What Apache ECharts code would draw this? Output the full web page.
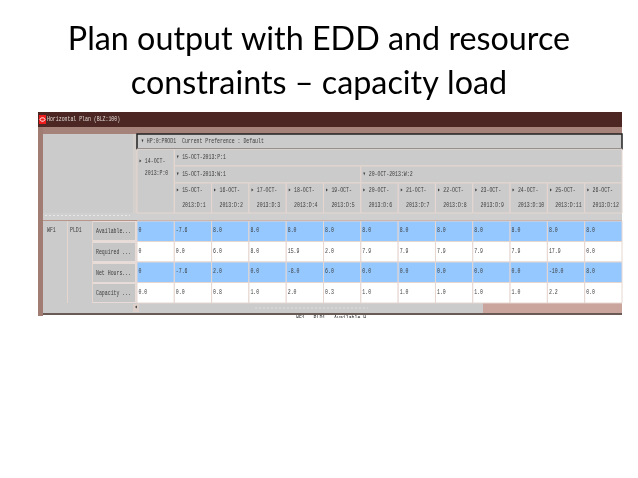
<!DOCTYPE html>
<html>
<head>
<meta charset="utf-8">
<script src="https://cdn.jsdelivr.net/npm/echarts@6/dist/echarts.min.js"></script>
<style>
    html, body { margin: 0; padding: 0; background: #fff; }
    #main { width: 638px; height: 478px; }
    /* the table is a soft screenshot in the slide, the heading stays sharp on its own layer */
    #main canvas:first-child { filter: blur(0.4px); }
</style>
</head>
<body>
<div id="main"></div>
<script>
var titleLines = ['Plan output with EDD and resource', 'constraints \u2013 capacity load'];
var windowTitle = 'Horizontal Plan (BLZ:100)';
var rowNames = ['Available...', 'Required ...', 'Net Hours...', 'Capacity ...'];
var orgName = 'WF1';
var planName = 'PLD1';

var available = ['0', '-7.6', '8.0', '8.0', '8.0', '8.0', '8.0', '8.0', '8.0', '8.0', '8.0', '8.0', '8.0'];
var required = ['0', '0.0', '6.0', '8.0', '15.9', '2.0', '7.9', '7.9', '7.9', '7.9', '7.9', '17.9', '0.0'];
var netHours = ['0', '-7.6', '2.0', '0.0', '-8.0', '6.0', '0.0', '0.0', '0.0', '0.0', '0.0', '-10.0', '8.0'];
var capacity = ['0.0', '0.0', '0.8', '1.0', '2.0', '0.3', '1.0', '1.0', '1.0', '1.0', '1.0', '2.2', '0.0'];
var rows = [available, required, netHours, capacity];

var days = ['15-OCT-', '16-OCT-', '17-OCT-', '18-OCT-', '19-OCT-', '20-OCT-', '21-OCT-', '22-OCT-', '23-OCT-', '24-OCT-', '25-OCT-', '26-OCT-'];
var dayIds = ['2013:D:1', '2013:D:2', '2013:D:3', '2013:D:4', '2013:D:5', '2013:D:6', '2013:D:7', '2013:D:8', '2013:D:9', '2013:D:10', '2013:D:11', '2013:D:12'];
var columns = ['c0', 'c1', 'c2', 'c3', 'c4', 'c5', 'c6', 'c7', 'c8', 'c9', 'c10', 'c11', 'c12'];

var FONT = '"Liberation Mono", monospace';
var SMALL = '7.5px ' + FONT;
var SQUEEZE = 0.65;
var TEXT = '#3c3c3c';
var GRAY = '#cbcbcb';
var EDGE = '#e6d6d0';

// header row edges, the header grid runs 0..79 downwards
var headerEdges = [0, 15, 32, 49, 79];
var headerCells = [
    [0, 13, 0, 1, '\u25be HP:0:PROD1  Current Preference : Default'],
    [0, 1, 1, 4, '\u25b8 14-OCT-\n  2013:P:0'],
    [1, 13, 1, 2, '\u25be 15-OCT-2013:P:1'],
    [1, 6, 2, 3, '\u25be 15-OCT-2013:W:1'],
    [6, 13, 2, 3, '\u25be 20-OCT-2013:W:2']
];
days.forEach(function (d, i) {
    headerCells.push([i + 1, i + 2, 3, 4, '\u25b8 ' + d + '\n  ' + dayIds[i]]);
});

var bodyData = [];
rows.forEach(function (row, r) {
    row.forEach(function (v, c) {
        bodyData.push([c, r, v]);
    });
});

function rect(x, y, w, h, fill) {
    return {type: 'rect', silent: true, shape: {x: x, y: y, width: w, height: h}, style: {fill: fill}};
}
function label(x, y, s, color) {
    return {type: 'text', z: 3, silent: true, x: x, y: y, scaleX: SQUEEZE, style: {
        text: s, fill: color || TEXT, font: SMALL, textVerticalAlign: 'middle'
    }};
}
function dots(x1, x2, y, color) {
    return {type: 'line', z: 2, silent: true, shape: {x1: x1, y1: y, x2: x2, y2: y}, style: {stroke: color, lineWidth: 1, lineDash: [2, 2]}};
}

var chrome = [
    rect(38, 112, 584, 15, '#4b2622'),
    rect(38, 127, 584, 7, '#a5837b'),
    rect(38, 127, 5, 189, '#a07c72'),
    rect(43, 134, 90, 79, GRAY),
    rect(133, 134, 4, 79, '#d6d0cc'),
    rect(43, 213, 579, 8, '#cfcfcf'),
    dots(45, 130, 215.5, '#e8e8e8'),
    rect(43, 220, 579, 1, '#b8958a'),
    rect(43, 221, 50, 82, GRAY),
    rect(67, 221, 1, 82, EDGE),
    rect(92, 221, 1, 82, EDGE),
    rect(93, 221, 44, 82, '#e8dcd8'),
    rect(93, 222, 42, 18, '#c6c6c6'),
    rect(93, 243, 42, 18, '#c6c6c6'),
    rect(93, 264, 42, 18, '#c6c6c6'),
    rect(93, 284, 42, 18, '#c6c6c6'),
    rect(43, 303, 579, 10, GRAY),
    rect(133, 304, 6, 8, '#ddd0cb'),
    dots(255, 368, 308, '#dedede'),
    rect(483, 303, 139, 10, '#c9a59d'),
    rect(43, 313, 579, 2, '#6a5a56'),
    rect(39, 115, 7, 9, '#ee1c1c'),
    {type: 'ellipse', z: 1, silent: true, shape: {cx: 42.5, cy: 119.5, rx: 2.5, ry: 1.7}, style: {fill: 'none', stroke: '#fff', lineWidth: 1}},
    label(47, 119.5, windowTitle, '#e2d8d4'),
    label(47, 230, orgName),
    label(70, 230, planName),
    label(134.5, 307.5, '\u25c2'),
    // top of the next line of the source screenshot, cut by the crop
    label(296, 318.5, orgName + '   ' + planName + '   Available H', '#222222'),
    {type: 'rect', z: 5, silent: true, shape: {x: 280, y: 318, width: 130, height: 8}, style: {fill: '#ffffff'}}
];
rowNames.forEach(function (name, i) {
    chrome.push(label(96, [231, 252, 273, 293][i], name));
});

var option = {
    animation: false,
    backgroundColor: '#ffffff',
    title: {
        text: titleLines.join('\n'),
        left: 319,
        top: 18,
        padding: 0,
        zlevel: 1,
        textAlign: 'center',
        textStyle: {fontFamily: 'Lato', fontWeight: 'normal', fontSize: 32.3, lineHeight: 44, color: '#000000'}
    },
    graphic: {elements: chrome, z: -1},
    grid: [
        {left: 137, top: 221, width: 485, height: 82},
        {left: 137, top: 134, width: 485, height: 79}
    ],
    xAxis: [
        {type: 'category', gridIndex: 0, data: columns, show: false},
        {type: 'value', gridIndex: 1, min: 0, max: 13, show: false}
    ],
    yAxis: [
        {type: 'category', gridIndex: 0, data: rowNames, inverse: true, show: false},
        {type: 'value', gridIndex: 1, min: 0, max: 79, inverse: true, show: false}
    ],
    series: [
        {
            type: 'custom',
            xAxisIndex: 0,
            yAxisIndex: 0,
            data: bodyData,
            encode: {x: 0, y: 1},
            renderItem: function (params, api) {
                var c = api.coord([api.value(0), api.value(1)]);
                var size = api.size([1, 1]);
                var row = bodyData[params.dataIndex][1];
                var x = c[0] - size[0] / 2;
                var y = c[1] - size[1] / 2;
                return {
                    type: 'group',
                    children: [
                        {
                            type: 'rect',
                            shape: {x: x, y: y, width: size[0], height: size[1]},
                            style: {fill: row % 2 === 0 ? '#94c8ff' : '#ffffff', stroke: EDGE, lineWidth: 1}
                        },
                        {
                            type: 'text',
                            x: x + 1.5,
                            y: c[1] - 1,
                            scaleX: SQUEEZE,
                            style: {
                                text: bodyData[params.dataIndex][2],
                                fill: TEXT,
                                font: SMALL,
                                textVerticalAlign: 'middle'
                            }
                        }
                    ]
                };
            }
        },
        {
            type: 'custom',
            xAxisIndex: 1,
            yAxisIndex: 1,
            data: headerCells,
            encode: {x: [0, 1], y: [2, 3]},
            renderItem: function (params, api) {
                var cell = headerCells[params.dataIndex];
                var a = api.coord([cell[0], headerEdges[cell[2]]]);
                var b = api.coord([cell[1], headerEdges[cell[3]]]);
                var isPref = cell[2] === 0;
                var isPeriod = cell[0] === 0 && !isPref;
                return {
                    type: 'group',
                    children: [
                        {
                            type: 'rect',
                            shape: {x: a[0], y: a[1], width: b[0] - a[0], height: b[1] - a[1]},
                            style: {fill: GRAY, stroke: isPref ? '#222222' : EDGE, lineWidth: isPref ? 1.5 : 1}
                        },
                        {
                            type: 'text',
                            x: a[0] + (isPref ? 4 : 2),
                            y: isPeriod ? a[1] + 6 : (a[1] + b[1]) / 2,
                            scaleX: SQUEEZE,
                            style: {
                                text: cell[4],
                                fill: TEXT,
                                font: SMALL,
                                lineHeight: cell[2] === 3 ? 15 : 12,
                                textVerticalAlign: isPeriod ? 'top' : 'middle'
                            }
                        }
                    ]
                };
            }
        }
    ]
};

var chart = echarts.init(document.getElementById('main'), null, {renderer: 'canvas'});
chart.setOption(option);
</script>
</body>
</html>
